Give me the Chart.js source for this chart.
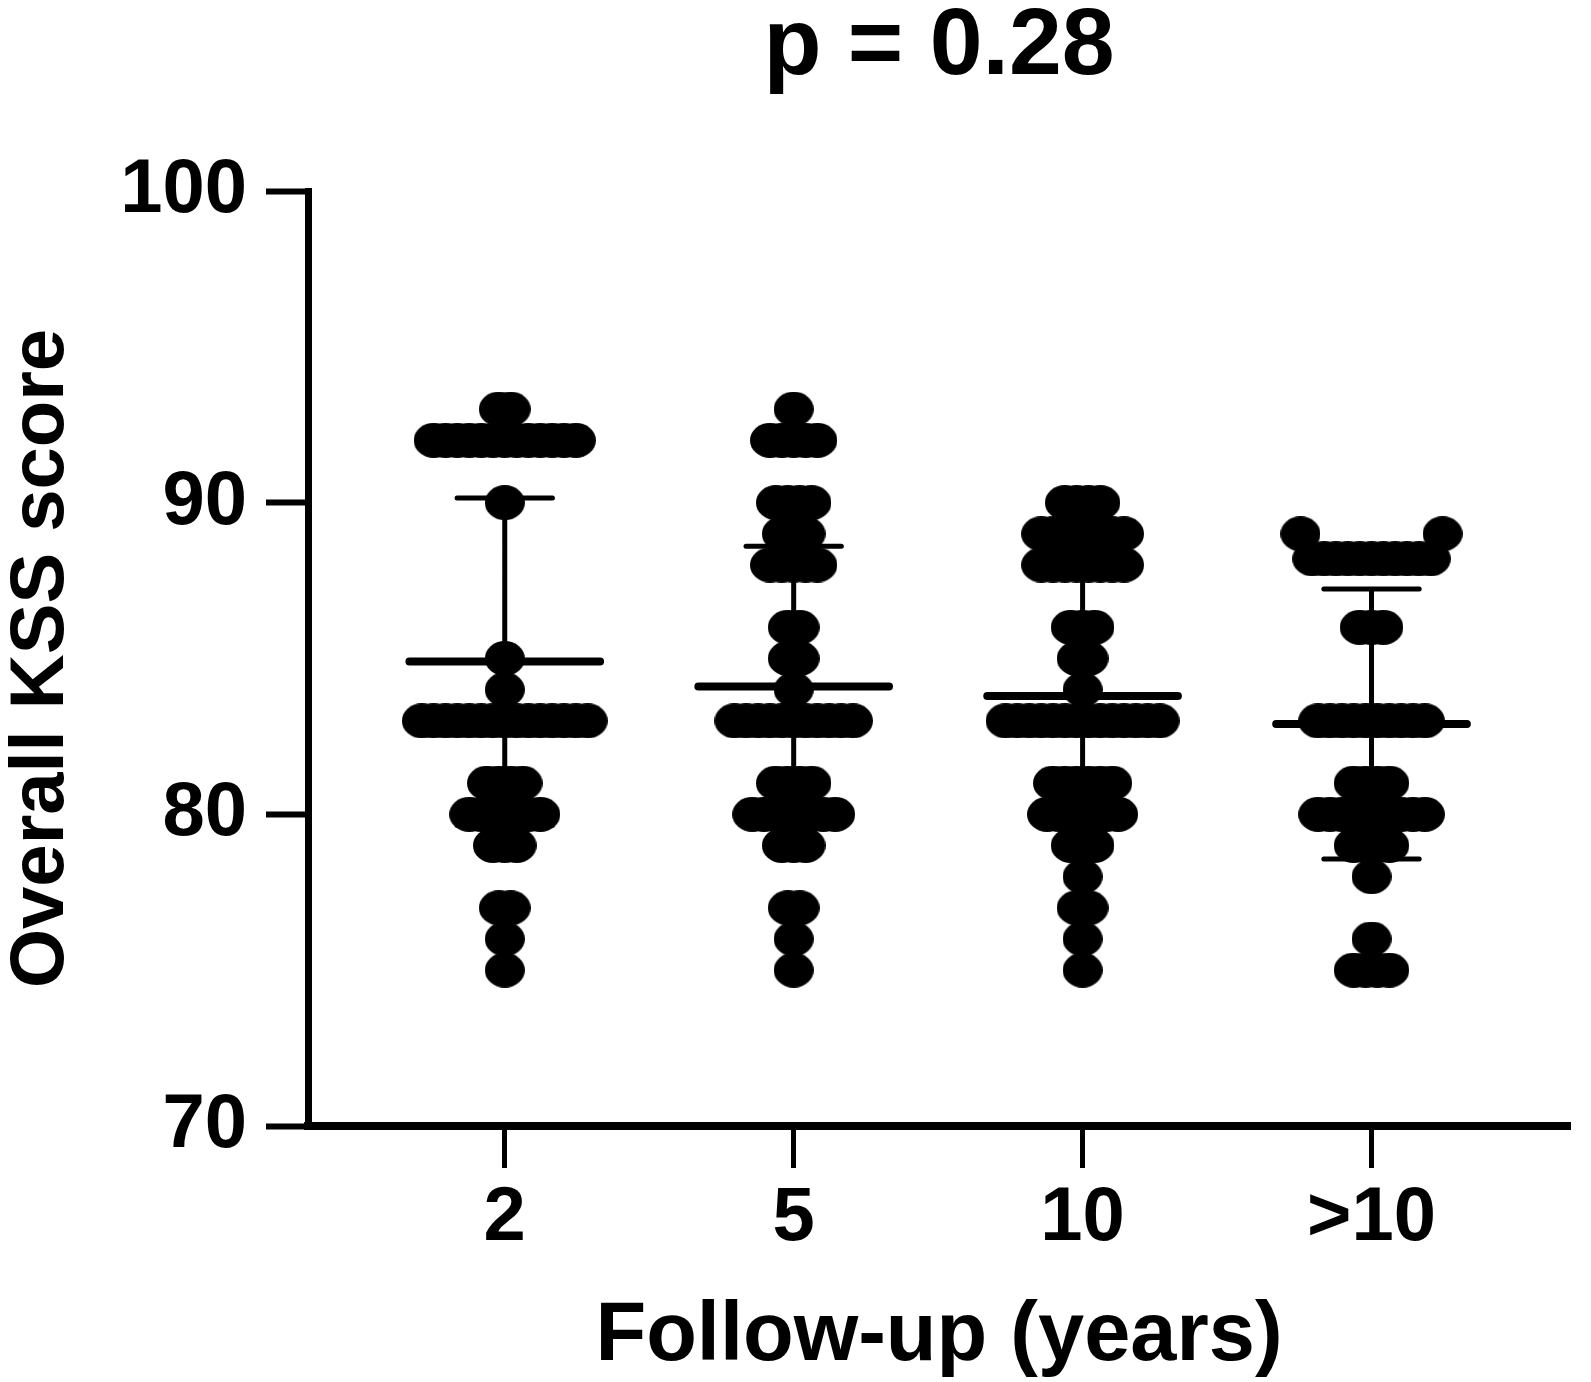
<!DOCTYPE html>
<html>
<head>
<meta charset="utf-8">
<script src="https://cdn.jsdelivr.net/npm/chart.js@4.4.0/dist/chart.umd.min.js"></script>
<style>
html,body{margin:0;padding:0;background:#ffffff;overflow:hidden;}
#wrap{width:1591px;height:1382px;}
</style>
</head>
<body>
<div id="wrap"><canvas id="c"></canvas></div>
<script>
// ---------- data ----------
const categories = ['2', '5', '10', '>10'];
const yTicks = [70, 80, 90, 100];
const chartTitle = 'p = 0.28';
const xTitle = 'Follow-up (years)';
const yTitle = 'Overall KSS score';

const scores2 = [
  93, 93,
  92, 92, 92, 92, 92, 92, 92, 92, 92, 92, 92, 92, 92,
  90,
  85,
  84,
  83, 83, 83, 83, 83, 83, 83, 83, 83, 83, 83, 83, 83, 83, 83,
  81, 81, 81, 81,
  80, 80, 80, 80, 80, 80, 80,
  79, 79, 79,
  77, 77,
  76,
  75
];
const scores5 = [
  93,
  92, 92, 92, 92, 92,
  90, 90, 90, 90,
  89, 89, 89,
  88, 88, 88, 88, 88,
  86, 86,
  85, 85,
  84,
  83, 83, 83, 83, 83, 83, 83, 83, 83, 83, 83,
  81, 81, 81, 81,
  80, 80, 80, 80, 80, 80, 80, 80,
  79, 79, 79,
  77, 77,
  76,
  75
];
const scores10 = [
  90, 90, 90, 90,
  89, 89, 89, 89, 89, 89, 89, 89,
  88, 88, 88, 88, 88, 88, 88, 88,
  86, 86, 86,
  85, 85,
  84,
  83, 83, 83, 83, 83, 83, 83, 83, 83, 83, 83, 83, 83, 83,
  81, 81, 81, 81, 81, 81,
  80, 80, 80, 80, 80, 80, 80,
  79, 79, 79,
  78,
  77, 77,
  76,
  75
];
const scoresOver10 = [
  89, 89,
  88.2, 88.2, 88.2, 88.2, 88.2, 88.2, 88.2, 88.2, 88.2, 88.2, 88.2,
  86, 86, 86,
  83, 83, 83, 83, 83, 83, 83, 83, 83, 83,
  81, 81, 81, 81,
  80, 80, 80, 80, 80, 80, 80, 80, 80, 80,
  79, 79, 79, 79,
  78,
  76,
  75, 75, 75, 75
];
const means = [84.9, 84.1, 83.8, 82.9];
const sds = [5.25, 4.5, 4.0, 4.33];

// ---------- layout helpers ----------
const groups = [scores2, scores5, scores10, scoresOver10];
const STEP = 0.041;      // horizontal spacing between stacked dots (x units)
const MERGE = 0.9;       // values closer than this share one row
const MEAN_HALF = 0.33;
const CAP_HALF = 0.165;

function swarm(values, center) {
  const sorted = [...values].sort((a, b) => a - b);
  const rows = [];
  for (const v of sorted) {
    const last = rows[rows.length - 1];
    if (last && v - last[0] < MERGE) last.push(v); else rows.push([v]);
  }
  const pts = [];
  for (const row of rows) {
    const n = row.length;
    row.forEach((v, i) => {
      let off;
      if (n % 2 === 1) {
        const k = Math.ceil(i / 2);
        off = i === 0 ? 0 : (i % 2 === 1 ? -k : k);
      } else {
        const k = Math.floor(i / 2) + 0.5;
        off = i % 2 === 0 ? -k : k;
      }
      pts.push({ x: center + off * STEP, y: v });
    });
  }
  return pts;
}

const dotData = [];
groups.forEach((g, i) => dotData.push(...swarm(g, i + 1)));

const meanData = [];
const sdData = [];
means.forEach((m, i) => {
  const c = i + 1, s = sds[i];
  meanData.push({ x: c - MEAN_HALF, y: m }, { x: c + MEAN_HALF, y: m }, { x: c, y: null });
  sdData.push({ x: c, y: m - s }, { x: c, y: m + s }, { x: c, y: null });
  sdData.push({ x: c - CAP_HALF, y: m + s }, { x: c + CAP_HALF, y: m + s }, { x: c, y: null });
  sdData.push({ x: c - CAP_HALF, y: m - s }, { x: c + CAP_HALF, y: m - s }, { x: c, y: null });
});

// dot marker: slightly wide ellipse
const marker = document.createElement('canvas');
marker.width = 40; marker.height = 35;
(function () {
  const g = marker.getContext('2d');
  g.fillStyle = '#000';
  g.beginPath();
  g.ellipse(20, 17.5, 20, 17.5, 0, 0, Math.PI * 2);
  g.fill();
})();

const FONT = '"Liberation Sans", Arial, Helvetica, sans-serif';

new Chart(document.getElementById('c'), {
  type: 'scatter',
  data: {
    datasets: [
      {
        label: 'mean',
        data: meanData,
        showLine: true,
        spanGaps: false,
        borderColor: '#000',
        borderWidth: 8,
        borderCapStyle: 'round',
        pointRadius: 0,
        order: 1
      },
      {
        label: 'sd',
        data: sdData,
        showLine: true,
        spanGaps: false,
        borderColor: '#000',
        borderWidth: 5,
        borderCapStyle: 'round',
        pointRadius: 0,
        order: 1
      },
      {
        label: 'scores',
        data: dotData,
        pointStyle: marker,
        pointRadius: 20,
        showLine: false,
        order: 2
      }
    ]
  },
  options: {
    responsive: true,
    maintainAspectRatio: false,
    animation: false,
    layout: { padding: { left: 0, right: 0, top: 0, bottom: 0 } },
    plugins: {
      legend: { display: false },
      tooltip: { enabled: false },
      title: {
        display: true,
        text: chartTitle,
        fullSize: false,
        color: '#000',
        font: { family: FONT, size: 95, weight: 'bold', lineHeight: 1 },
        padding: { top: 0, bottom: 96 }
      }
    },
    scales: {
      x: {
        type: 'linear',
        min: 0.319,
        max: 4.687,
        afterBuildTicks: s => { s.ticks = categories.map((c, i) => ({ value: i + 1 })); },
        afterFit: s => { s.height = 256; },
        ticks: {
          callback: v => categories[Math.round(v) - 1] ?? '',
          color: '#000',
          font: { family: FONT, size: 76, weight: 'bold', lineHeight: 1 },
          padding: 13,
          maxRotation: 0,
          autoSkip: false
        },
        grid: { display: true, drawOnChartArea: false, drawTicks: true, tickLength: 42, tickWidth: 5, tickColor: '#000' },
        border: { display: true, color: '#000', width: 8 },
        title: {
          display: true,
          text: xTitle,
          color: '#000',
          font: { family: FONT, size: 83, weight: 'bold', lineHeight: 1 },
          padding: { top: 0, bottom: 3 }
        }
      },
      y: {
        min: 70,
        max: 100,
        afterBuildTicks: s => { s.ticks = yTicks.map(v => ({ value: v })); },
        afterFit: s => { s.width = 308; },
        ticks: {
          color: '#000',
          font: { family: FONT, size: 76, weight: 'bold', lineHeight: 1 },
          padding: 19
        },
        grid: { display: true, drawOnChartArea: false, drawTicks: true, tickLength: 42, tickWidth: 6, tickColor: '#000' },
        border: { display: true, color: '#000', width: 7 },
        title: {
          display: true,
          text: yTitle,
          color: '#000',
          font: { family: FONT, size: 76, weight: 'bold', lineHeight: 1 },
          padding: { top: 4, bottom: 0 }
        }
      }
    }
  }
});
</script>
</body>
</html>
